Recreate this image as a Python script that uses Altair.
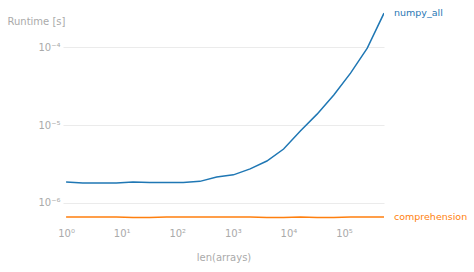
import altair as alt
import pandas as pd

n_values = [2 ** k for k in range(20)]
numpy_all = [1.86e-6, 1.80e-6, 1.80e-6, 1.80e-6, 1.86e-6, 1.83e-6, 1.83e-6, 1.83e-6,
             1.89e-6, 2.15e-6, 2.29e-6, 2.73e-6, 3.45e-6, 4.92e-6, 8.37e-6, 1.38e-5,
             2.43e-5, 4.64e-5, 9.7e-5, 2.73e-4]
comprehension = [6.6e-7, 6.6e-7, 6.6e-7, 6.6e-7, 6.5e-7, 6.5e-7, 6.6e-7, 6.6e-7,
                 6.6e-7, 6.6e-7, 6.6e-7, 6.6e-7, 6.5e-7, 6.5e-7, 6.6e-7, 6.5e-7,
                 6.5e-7, 6.6e-7, 6.6e-7, 6.6e-7]
series_names = ["numpy_all", "comprehension"]
series_colors = ["#1f77b4", "#ff7f0e"]

rows = []
for name, vals in zip(series_names, [numpy_all, comprehension]):
    for n, v in zip(n_values, vals):
        rows.append({"n": n, "t": v, "series": name})
df = pd.DataFrame(rows)
last = df[df["n"] == n_values[-1]]

gray = "#aaaaaa"
font = "DejaVu Sans"

xscale = alt.Scale(type="log", domain=[0.88, 524288], nice=False)
yscale = alt.Scale(type="log", domain=[5.2e-7, 3e-4], nice=False)
color = alt.Color("series:N", scale=alt.Scale(domain=series_names, range=series_colors), legend=None)

x_labels = "{'1': '10⁰', '10': '10¹', '100': '10²', '1000': '10³', '10000': '10⁴', '100000': '10⁵'}[format(datum.value, 'd')]"
y_labels = "datum.value < 5e-6 ? '10⁻⁶' : (datum.value < 5e-5 ? '10⁻⁵' : '10⁻⁴')"

lines = alt.Chart(df).mark_line(strokeWidth=1.5, clip=True).encode(
    x=alt.X("n:Q", scale=xscale, axis=alt.Axis(
        title="len(arrays)", values=[1, 10, 100, 1000, 10000, 100000],
        labelExpr=x_labels, grid=False, domain=False, ticks=False,
        labelColor=gray, labelFont=font, labelFontSize=10, labelPadding=3,
        titleColor=gray, titleFont=font, titleFontSize=10, titleFontWeight="normal",
        titlePadding=14)),
    y=alt.Y("t:Q", scale=yscale, axis=alt.Axis(
        title="Runtime [s]", values=[1e-6, 1e-5, 1e-4], labelExpr=y_labels,
        grid=True, gridColor="#ebebeb", gridWidth=1, domain=False, ticks=False,
        labelColor=gray, labelFont=font, labelFontSize=10, labelPadding=3,
        titleColor=gray, titleFont=font, titleFontSize=10, titleFontWeight="normal",
        titleAngle=0, titleAlign="left", titleBaseline="middle", titleX=-56, titleY=11)),
    color=color,
)

labels = alt.Chart(last).mark_text(align="left", baseline="middle", dx=10, font=font, fontSize=9.5).encode(
    x=alt.X("n:Q", scale=xscale),
    y=alt.Y("t:Q", scale=yscale),
    text="series:N",
    color=color,
)

chart = alt.layer(lines, labels).properties(
    width=321, height=215,
    autosize=alt.AutoSizeParams(type="none"),
    padding={"left": 63, "top": 10, "right": 90, "bottom": 47},
).configure_view(stroke=None)

chart.save("out.html", embed_options={"renderer": "svg", "actions": False})
